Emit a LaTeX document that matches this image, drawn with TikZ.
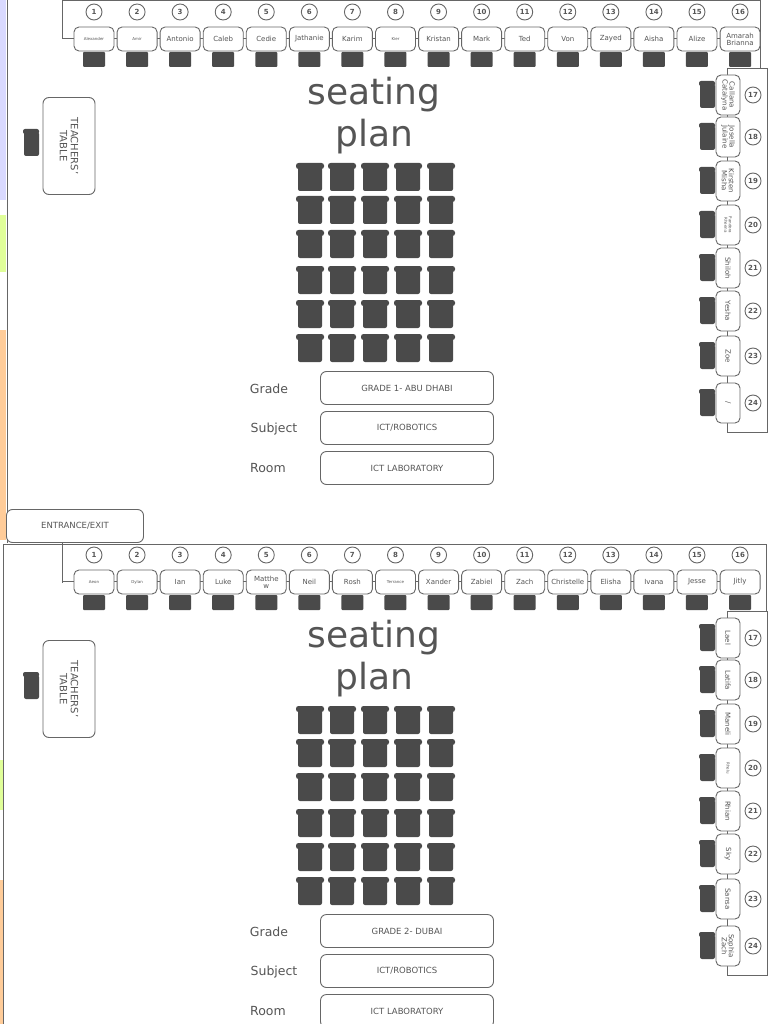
\documentclass[tikz,border=0pt]{standalone}
\usepackage{fontspec}
\setmainfont{DejaVu Sans}
\definecolor{chair}{HTML}{4A4A4A}
\definecolor{frame}{HTML}{666666}
\definecolor{txt}{HTML}{555555}
\tikzset{
  seatlabel/.style={draw=frame, rounded corners=5pt, fill=white, line width=0.9pt, minimum width=40pt, minimum height=24pt, inner sep=1pt, align=center, text=txt, font=\fontsize{7}{7}\selectfont},
  sidelabel/.style={seatlabel, minimum width=40pt, minimum height=24pt, rotate=-90},
  tinyname/.style={font=\fontsize{4}{4.5}\selectfont},
  normal/.style={},
  seatnum/.style={circle, draw=frame, fill=white, line width=0.9pt, minimum size=16pt, inner sep=0pt, font=\fontsize{7}{7}\selectfont\bfseries, text=txt},
  infobox/.style={draw=frame, rounded corners=6pt, line width=0.9pt, minimum width=173pt, minimum height=33pt, text=txt, font=\fontsize{8.5}{9}\selectfont},
  infolabel/.style={text=txt, font=\fontsize{12.5}{13}\selectfont},
}
\newcommand\deskchair[2]{% centre of a chair in the middle block
  \fill[chair, rounded corners=2pt] (#1-12,#2+4) rectangle (#1+12,#2+28);
  \fill[chair, rounded corners=2.5pt] (#1-14,#2) rectangle (#1+14,#2+6);
}
\newcommand\sidechair[2]{%
  \fill[chair, rounded corners=2pt] (#1-8,#2-11) rectangle (#1+7,#2+13);
  \fill[chair, rounded corners=2pt] (#1-9,#2-14) rectangle (#1+7,#2-9);
}
\newcommand\roompanel[4]{%
\begin{scope}[yshift=-#1pt]
  % front wall and seats
  \draw[frame, line width=0.9pt] (727,68) rectangle (767,432);
  \draw[frame, line width=0.9pt] (62,0) -- (62,38) -- (740,38);
  \foreach \i/\nm/\st [evaluate=\i as \xx using 94+(\i-1)*43.07] in {#2}{
    \fill[chair, rounded corners=1pt] (\xx-11,52) rectangle (\xx+11,67);
    \node[seatlabel,\st] (s\i) at (\xx,39) {\nm};
    \node[seatnum] (n\i) at (\xx,12) {\i};
  }
  % side row
  \foreach \i/\nm/\st/\yy in {#3}{
    \sidechair{708}{\yy}
    \node[sidelabel,\st] (s\i) at (728,\yy) {\nm};
    \node[seatnum] (n\i) at (753,\yy) {\i};
  }
  % teachers' table
  \sidechair{32}{143}
  \node[draw=frame, rounded corners=6pt, line width=0.9pt, fill=white, minimum width=97pt, minimum height=52pt, rotate=-90, align=center, text=txt, font=\fontsize{10}{11}\selectfont] (teach) at (69,146) {TEACHERS'\\TABLE};
  % title
  \node[text=txt, align=center, font=\fontsize{36}{42}\selectfont] (title) at (374,116) {seating\\plan};
  % students' chairs
  \foreach \yy in {163,196,230,266,300,334}
    \foreach \xx in {310,342,375,408,441}
      {\deskchair{\xx}{\yy}}
  % class details
  \node[infobox] (grade) at (407,388) {#4};
  \node[infobox] (subject) at (407,428) {ICT/ROBOTICS};
  \node[infobox] (room) at (407,468) {ICT LABORATORY};
  \node[infolabel] (gradel) at (269,389) {Grade};
  \node[infolabel] (subjectl) at (274,429) {Subject};
  \node[infolabel] (rooml) at (268,468) {Room};
\end{scope}
}
\begin{document}
\begin{tikzpicture}[x=1pt,y=-1pt]
\useasboundingbox (0,0) rectangle (768,1024);
% edges of the pages behind
\fill[blue!15] (0,0) rectangle (6,200);
\fill[green!30!yellow!40] (0,215) rectangle (6,272);
\fill[orange!40] (0,330) rectangle (6,540);
\fill[green!30!yellow!40] (0,760) rectangle (3,810);
\fill[orange!40] (0,880) rectangle (3,1024);
\draw[frame, line width=0.9pt] (62,0) -- (760,0) -- (760,68);
\draw[frame, line width=0.9pt] (7,0) -- (7,543);
\draw[frame, line width=0.9pt] (3,544) -- (766,544) -- (766,612);
\draw[frame, line width=0.9pt] (3,544) -- (3,1024);
\draw[frame, line width=0.9pt] (62,544) -- (62,583);
\roompanel{0}{1/Alexander/tinyname,2/Amir/tinyname,3/Antonio/normal,4/Caleb/normal,5/Cedie/normal,6/Jathanie/normal,7/Karim/normal,8/Kier/tinyname,9/Kristan/normal,10/Mark/normal,11/Ted/normal,12/Von/normal,13/Zayed/normal,14/Aisha/normal,15/Alize/normal,16/Amarah\\Brianna/normal}{17/Callana\\Catalyna/normal/95,18/Josella\\Julaine/normal/137,19/Kirsten\\Misha/normal/181,20/Pandora\\Rheena/tinyname/225,21/Shiloh/normal/268,22/Yesha/normal/311,23/Zoe/normal/356,24/\slash/normal/403}{GRADE 1- ABU DHABI}
\node[draw=frame, rounded corners=6pt, line width=0.9pt, fill=white, minimum width=137pt, minimum height=33pt, text=txt, font=\fontsize{8.5}{9}\selectfont] (door) at (75,526) {ENTRANCE/EXIT};
\roompanel{543}{1/Aeon/tinyname,2/Dylan/tinyname,3/Ian/normal,4/Luke/normal,5/Matthe\\w/normal,6/Neil/normal,7/Rosh/normal,8/Terrance/tinyname,9/Xander/normal,10/Zabiel/normal,11/Zach/normal,12/Christelle/normal,13/Elisha/normal,14/Ivana/normal,15/Jesse/normal,16/Jitly/normal}{17/Lael/normal/95,18/Latifa/normal/137,19/Maneli/normal/181,20/Rhelu/tinyname/225,21/Rhian/normal/268,22/Sky/normal/311,23/Sansa/normal/356,24/Sophia\\Zach/normal/403}{GRADE 2- DUBAI}
\end{tikzpicture}
\end{document}
